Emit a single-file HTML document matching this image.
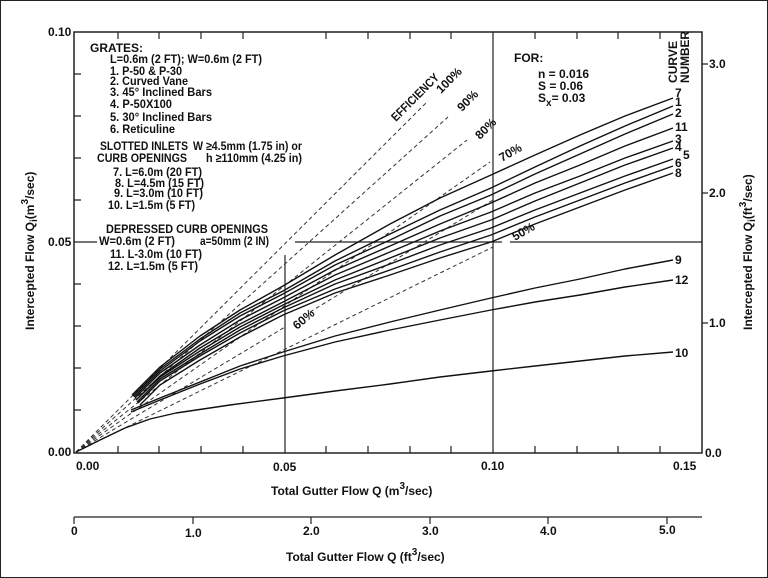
<!DOCTYPE html>
<html><head><meta charset="utf-8"><style>
html,body{margin:0;padding:0;background:#fff}
svg{display:block}
text{font-family:"Liberation Sans Narrow","Liberation Sans",sans-serif;font-weight:bold;fill:#111;font-size:12px}
</style></head><body>
<svg width="768" height="578" viewBox="0 0 768 578" xmlns="http://www.w3.org/2000/svg">
<rect x="0.5" y="0.5" width="767" height="577" fill="#fff" stroke="#222"/>
<rect x="74" y="32" width="628" height="421" fill="none" stroke="#222" stroke-width="1.5"/>
<g stroke="#222" stroke-width="1.2">
<path d="M118 453v-7M159 453v-7M201 453v-7M243 453v-7M326 453v-7M368 453v-7M410 453v-7M451 453v-7M535 453v-7M577 453v-7M618 453v-7M660 453v-7"/>
<path d="M118 32v7M159 32v7M201 32v7M243 32v7M326 32v7M368 32v7M410 32v7M451 32v7M535 32v7M577 32v7M618 32v7M660 32v7"/>
<path d="M74 74h7M74 116h7M74 158h7M74 200h7M74 284h7M74 326h7M74 368h7M74 410h7"/>
<path d="M702 64h6M702 193h6M702 323h6"/>
<path d="M285 255V453M493 32V453M74 242h23M295 242h207M510 242h192"/>
<path d="M74 517H702M74 517v7M193 517v7M311 517v7M430 517v7M548 517v7M667 517v7"/>
</g>
<g stroke="#333" stroke-width="1" stroke-dasharray="4,3" fill="none">
<path d="M76 452L428 101"/>
<path d="M76 452L448 117"/>
<path d="M76 452L467 140"/>
<path d="M76 452L490 162"/>
<path d="M76 452L285 327M310 312L493 200"/>
<path d="M76 452L493 247"/>
</g>
<g stroke="#111" stroke-width="1.4" fill="none" stroke-linejoin="round">
<polyline points="132,395 160,367 200,336 240,310 283,286 335,255 390,224 440,198 491,175 535,155 580,135 625,116 673,98"/>
<polyline points="133,396 160,369 200,339 240,313 283,291 335,261 390,234 440,210 491,188 535,167 580,146 625,126 673,106"/>
<polyline points="134,397 160,371 200,341 240,316 283,294 335,265 390,240 440,216 491,195 535,174 580,154 625,134 673,114"/>
<polyline points="135,398 160,373 200,345 240,320 283,298 335,270 390,246 440,224 491,203 535,183 580,165 625,146 673,128"/>
<polyline points="136,400 160,376 200,348 240,324 283,302 335,275 390,252 440,231 491,212 535,193 580,176 625,158 673,141"/>
<polyline points="136,400 160,377 200,351 240,327 283,305 335,280 390,258 440,238 491,220 535,201 580,183 625,165 673,148"/>
<polyline points="137,402 160,379 200,354 240,330 283,308 335,284 390,264 440,245 491,228 535,210 580,193 625,176 673,159"/>
<polyline points="138,403 160,381 200,356 240,333 283,311 335,289 390,270 440,252 491,235 535,217 580,200 625,183 673,166"/>
<polyline points="140,405 160,385 200,360 240,337 283,315 335,293 390,275 440,258 491,242 535,224 580,207 625,190 673,173"/>
<polyline points="131,410 160,398 200,382 240,366 283,352 335,336 390,322 440,310 491,298 535,288 580,279 625,269 673,260"/>
<polyline points="131,412 160,400 200,384 240,369 283,356 335,342 390,330 440,320 491,310 535,302 580,295 625,287 673,280"/>
<polyline points="76,452 100,440 125,428 150,419 176,413 230,405 283,398 335,391 390,384 440,377 491,371 535,366 580,361 625,356 673,352"/>
</g>
<text x="48" y="36">0.10</text>
<text x="48" y="246">0.05</text>
<text x="48" y="456">0.00</text>
<text x="709" y="68">3.0</text>
<text x="709" y="197">2.0</text>
<text x="709" y="327">1.0</text>
<text x="705" y="457">0.0</text>
<text x="76" y="470">0.00</text>
<text x="273" y="471">0.05</text>
<text x="481" y="470">0.10</text>
<text x="673" y="470">0.15</text>
<text x="271" y="495">Total Gutter Flow  Q (m<tspan dy="-6" font-size="10">3</tspan><tspan dy="6">/sec)</tspan></text>
<text x="71" y="535">0</text>
<text x="185" y="537">1.0</text>
<text x="303" y="535">2.0</text>
<text x="422" y="535">3.0</text>
<text x="540" y="535">4.0</text>
<text x="659" y="534">5.0</text>
<text x="286" y="561">Total Gutter Flow  Q (ft<tspan dy="-6" font-size="10">3</tspan><tspan dy="6">/sec)</tspan></text>
<text transform="translate(34,330) rotate(-90)">Intercepted Flow  Q<tspan font-size="10" dy="3">i</tspan><tspan dy="-3">(m</tspan><tspan dy="-6" font-size="10">3</tspan><tspan dy="6">/sec)</tspan></text>
<text transform="translate(752,330) rotate(-90)">Intercepted Flow  Q<tspan font-size="10" dy="3">i</tspan><tspan dy="-3">(ft</tspan><tspan dy="-6" font-size="10">3</tspan><tspan dy="6">/sec)</tspan></text>
<text x="90" y="52" textLength="53" lengthAdjust="spacingAndGlyphs">GRATES:</text>
<text x="110" y="63" textLength="152" lengthAdjust="spacingAndGlyphs">L=0.6m (2 FT); W=0.6m (2 FT)</text>
<text x="110" y="75" textLength="72" lengthAdjust="spacingAndGlyphs">1. P-50 &amp; P-30</text>
<text x="110" y="85" textLength="78" lengthAdjust="spacingAndGlyphs">2. Curved Vane</text>
<text x="110" y="96" textLength="102" lengthAdjust="spacingAndGlyphs">3. 45° Inclined Bars</text>
<text x="110" y="108" textLength="62" lengthAdjust="spacingAndGlyphs">4. P-50X100</text>
<text x="110" y="121" textLength="102" lengthAdjust="spacingAndGlyphs">5. 30° Inclined Bars</text>
<text x="110" y="133" textLength="65" lengthAdjust="spacingAndGlyphs">6. Reticuline</text>
<text x="100" y="150" textLength="88" lengthAdjust="spacingAndGlyphs">SLOTTED INLETS</text>
<text x="193" y="150" textLength="109" lengthAdjust="spacingAndGlyphs">W ≥4.5mm (1.75 in) or</text>
<text x="97" y="162" textLength="90" lengthAdjust="spacingAndGlyphs">CURB OPENINGS</text>
<text x="206" y="162" textLength="96" lengthAdjust="spacingAndGlyphs">h ≥110mm (4.25 in)</text>
<text x="113" y="176" textLength="89" lengthAdjust="spacingAndGlyphs">7. L=6.0m (20 FT)</text>
<text x="115" y="187" textLength="89" lengthAdjust="spacingAndGlyphs">8. L=4.5m (15 FT)</text>
<text x="114" y="197" textLength="89" lengthAdjust="spacingAndGlyphs">9. L=3.0m (10 FT)</text>
<text x="108" y="209" textLength="87" lengthAdjust="spacingAndGlyphs">10. L=1.5m (5 FT)</text>
<text x="106" y="233" textLength="162" lengthAdjust="spacingAndGlyphs">DEPRESSED CURB OPENINGS</text>
<text x="99" y="245" textLength="76" lengthAdjust="spacingAndGlyphs">W=0.6m (2 FT)</text>
<text x="200" y="245" textLength="69" lengthAdjust="spacingAndGlyphs">a=50mm (2 IN)</text>
<text x="110" y="258" textLength="92" lengthAdjust="spacingAndGlyphs">11. L-3.0m (10 FT)</text>
<text x="108" y="270" textLength="90" lengthAdjust="spacingAndGlyphs">12. L=1.5m (5 FT)</text>
<text x="514" y="62">FOR:</text>
<text x="538" y="78">n = 0.016</text>
<text x="538" y="90">S = 0.06</text>
<text x="538" y="102">S<tspan font-size="10" dy="4">x</tspan><tspan dy="-4">= 0.03</tspan></text>
<text transform="translate(677,83) rotate(-90)" textLength="42" lengthAdjust="spacingAndGlyphs">CURVE</text>
<text transform="translate(689,83) rotate(-90)" textLength="52" lengthAdjust="spacingAndGlyphs">NUMBER</text>
<text x="675" y="97">7</text>
<text x="675" y="106">1</text>
<text x="675" y="117">2</text>
<text x="675" y="131">11</text>
<text x="675" y="143">3</text>
<text x="675" y="151">4</text>
<text x="683" y="159">5</text>
<text x="675" y="167">6</text>
<text x="675" y="177">8</text>
<text x="675" y="264">9</text>
<text x="675" y="284">12</text>
<text x="675" y="357">10</text>
<text transform="translate(396,122) rotate(-45)" textLength="62" lengthAdjust="spacingAndGlyphs">EFFICIENCY</text>
<text transform="translate(441,94) rotate(-45)">100%</text>
<text transform="translate(462,112) rotate(-45)">90%</text>
<text transform="translate(480,140) rotate(-45)">80%</text>
<text transform="translate(502,162) rotate(-30)">70%</text>
<text transform="translate(297,330) rotate(-40)">60%</text>
<text transform="translate(515,241) rotate(-30)">50%</text>
</svg>
</body></html>
